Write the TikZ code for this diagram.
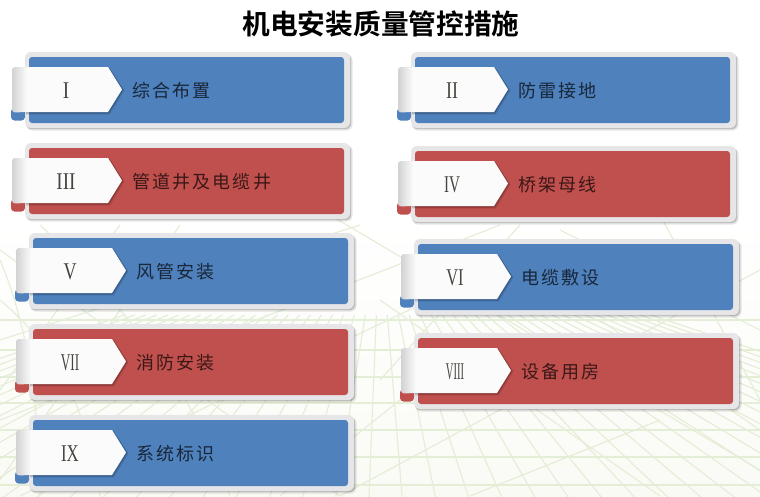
\documentclass[tikz,border=0pt]{standalone}
\usepackage{graphicx}
\usepackage{fontspec}
\newfontfamily\titlefont[BoldFont={Noto Sans CJK SC Bold}]{Noto Sans CJK SC}
\newfontfamily\labelfont[LetterSpace=12]{Noto Sans CJK SC}
\newfontfamily\numfont{Liberation Serif}
\definecolor{cardblue}{HTML}{4F81BD}
\definecolor{cardred}{HTML}{C0504D}
\definecolor{cardgray}{HTML}{E6E6E8}
\definecolor{foldgray}{HTML}{D2D2D4}
\definecolor{tabwhite}{HTML}{FBFBFB}
\definecolor{netgreen}{HTML}{E4EDD6}
\definecolor{numgray}{HTML}{45453E}
\definecolor{paper}{HTML}{FAFAF5}
\tikzset{
  outercard/.style={fill=cardgray,rounded corners=6pt,minimum width=325pt,minimum height=76pt,inner sep=0pt},
  innercard/.style={rounded corners=3pt,minimum width=315pt,minimum height=66pt,inner sep=0pt},
  numtext/.style={text=numgray,font=\numfont\fontsize{24}{24}\selectfont,inner sep=0pt},
  cardtext/.style={anchor=west,inner sep=0pt,font=\labelfont\fontsize{18}{18}\selectfont},
  titletext/.style={inner sep=0pt,font=\titlefont\bfseries\fontsize{27.7}{28}\selectfont},
  netline/.style={draw=netgreen,line width=1.1pt}
}
% #1 name, #2 #3 shift, #4 colour, #5 numeral, #6 text
\newcommand{\itemcard}[6]{
  \begin{scope}[shift={(#2,#3)}]
    \fill[black,opacity=.10,rounded corners=6pt] (26,54) rectangle (352.5,130.5);
    \fill[black,opacity=.18,rounded corners=6pt] (26,54) rectangle (351.2,129.2);
    \node[outercard] (#1out) at (187.5,90) {};
    \node[innercard,fill=#4] (#1in) at (186.5,90) {};
    \fill[#4,rounded corners=3.5pt] (11,108) rectangle (25,120.5);
    \fill[black,opacity=.10] (26,68) -- (110,68) -- (124.5,90.5) -- (110,114.5) -- (26,114.5) -- cycle;
    \fill[black,opacity=.18] (26,68) -- (109,68) -- (123.5,90) -- (109,113.5) -- (26,113.5) -- cycle;
    \fill[tabwhite] (26,67) -- (108,67) -- (122,89.5) -- (108,112) -- (26,112) -- cycle;
    \shade[left color=foldgray,right color=tabwhite,rounded corners=3pt] (12,112.5) -- (12,67) -- (27,67) -- (27,112) -- cycle;
    \node[numtext] (#1num) at (66,91) {#5};
    \node[cardtext,text=#4!30!black] (#1text) at (132,90.5) {#6};
  \end{scope}
}
\newcommand{\squeezed}[2]{\scalebox{#1}[1]{#2}}
\begin{document}
\begin{tikzpicture}[x=1pt,y=-1pt]
  \useasboundingbox (0,0) rectangle (760,496);
  % background net
  \shade[top color=white,bottom color=paper] (0,215) rectangle (760,496);
  \begin{scope}
    \clip (0,215) rectangle (760,496);
    \foreach \yy in {320,350,377,403,430,457,485} {
      \draw[netline] (0,\yy) -- (760,\yy);
    }
    \foreach \xx in {-460,-424,...,1280} {
      \draw[netline] ({380+(\xx-380)*0.305},315) -- (\xx,520);
    }
    \draw[netline] (0,340) -- (360,225);
    \draw[netline] (0,420) -- (500,225);
    \draw[netline] (20,496) -- (430,300);
    \draw[netline] (340,496) -- (760,270);
    \draw[netline] (380,300) -- (660,496);
    \draw[netline] (330,215) -- (760,470);
    \draw[netline] (0,250) -- (340,496);
    \draw[netline] (0,480) -- (180,225);
    \draw[netline] (400,400) -- (280,496);
    \draw[netline] (660,215) -- (760,400);
    \draw[netline] (520,225) -- (380,380);
    \draw[netline] (760,330) -- (560,230);
    \draw[netline] (600,320) -- (760,430);
    \draw[netline] (470,496) -- (660,420);
    \draw[netline] (0,300) .. controls (60,350) and (90,420) .. (100,496);
    \draw[netline] (0,260) .. controls (30,330) and (40,420) .. (40,496);
    \draw[netline] (40,225) .. controls (120,300) and (200,400) .. (230,496);
    \draw[netline] (120,225) .. controls (70,290) and (30,350) .. (0,390);
  \end{scope}
  \node[titletext] (title) at (381,24) {机电安装质量管控措施};
  \itemcard{one}{0}{0}{cardblue}{\squeezed{.8}{I}}{综合布置}
  \itemcard{two}{386}{0}{cardblue}{\squeezed{.75}{II}}{防雷接地}
  \itemcard{three}{0}{91}{cardred}{\squeezed{.8}{III}}{管道井及电缆井}
  \itemcard{four}{386}{94}{cardred}{\squeezed{.63}{IV}}{桥架母线}
  \itemcard{five}{4}{181}{cardblue}{\squeezed{.75}{V}}{风管安装}
  \itemcard{six}{389}{187}{cardblue}{\squeezed{.68}{VI}}{电缆敷设}
  \itemcard{seven}{4}{272}{cardred}{\squeezed{.55}{VII}}{消防安装}
  \itemcard{eight}{389}{281}{cardred}{\squeezed{.44}{VIII}}{设备用房}
  \itemcard{nine}{4}{363}{cardblue}{\squeezed{.7}{IX}}{系统标识}
\end{tikzpicture}
\end{document}
